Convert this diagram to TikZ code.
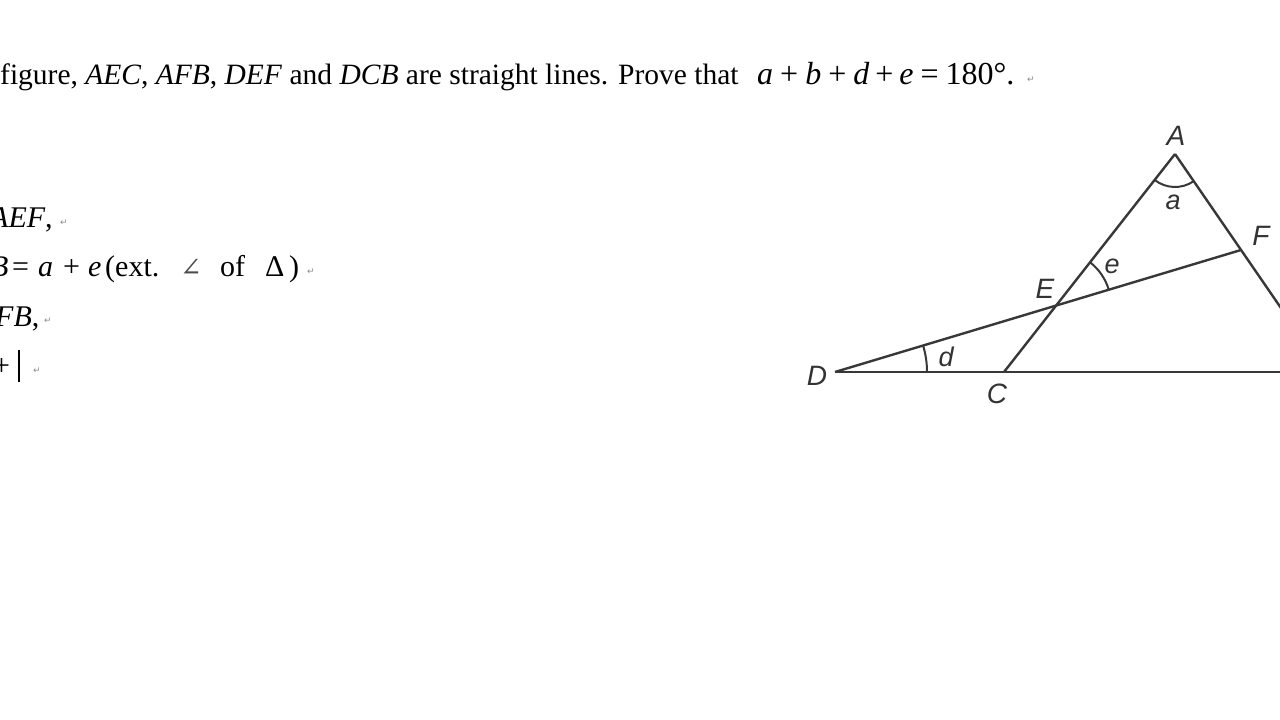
\documentclass[tikz,border=0pt]{standalone}
\usepackage{fontspec}
\setmainfont{Liberation Serif}
\newfontfamily\lblfont{Liberation Sans}
\newfontfamily\symfont{DejaVu Serif}
\newfontfamily\retfont{DejaVu Sans}
\usetikzlibrary{angles,calc,intersections}
\begin{document}
\begin{tikzpicture}[x=1pt,y=1pt,
 txt/.style={inner sep=0pt, anchor=base west, font=\fontsize{30}{36}\selectfont},
 ret/.style={inner sep=0pt, anchor=base west, text=black!45, font=\retfont\fontsize{9}{11}\selectfont},
 lbl/.style={font=\lblfont\itshape\fontsize{28}{32}\selectfont, text=black!80, inner sep=0pt},
 sm/.style={font=\lblfont\itshape\fontsize{27}{30}\selectfont, text=black!80, inner sep=0pt},
 geo/.style={draw=black!78, line width=2.4pt, line join=round},
 arcs/.style={draw=black!78, line width=2pt}]
\fill[white] (0,0) rectangle (1280,720);
\useasboundingbox (0,0) rectangle (1280,720);
\clip (0,0) rectangle (1280,720);
% text
\node[txt, font=\fontsize{29.5}{36}\selectfont] (t1) at (0,635) {figure, \textit{AEC}, \textit{AFB}, \textit{DEF} and \textit{DCB} are straight lines. Prove that};
\node[txt, font=\fontsize{32}{38}\selectfont] (t1m) at (757,635) {\textit{a}\kern7pt+\kern7pt\textit{b}\kern7pt+\kern7pt\textit{d}\kern6pt+\kern6pt\textit{e}\kern7pt=\kern7pt180°.};
\node[ret] (r1) at (1027,637) {↵};
\node[txt] (t2) at (-10,492) {\textit{AEF},};
\node[ret] (r2) at (60,494) {↵};
\node[txt] (t3a) at (-10,443) {\textit{B}};
\node[txt] (t3b) at (12,443) {=};
\node[txt] (t3c) at (38,443) {\textit{a}};
\node[txt] (t3d) at (63,443) {+};
\node[txt] (t3e) at (88,443) {\textit{e}};
\node[txt] (t3f) at (105,443) {(ext.};
\node[txt, font=\symfont\fontsize{26}{30}\selectfont, text=black!70] (t3g) at (180,443) {∠};
\node[txt] (t3h) at (220,443) {of};
\node[txt] (t3i) at (265,443) {Δ};
\node[txt] (t3j) at (289,443) {)};
\node[ret] (r3) at (307,445) {↵};
\node[txt] (t4) at (-5,393) {\textit{FB},};
\node[ret] (r4) at (44,396) {↵};
\node[txt] (t5) at (-7,344) {+};
\draw[line width=1.4pt] (19,370) -- (19,338);
\node[ret] (r5) at (33,346) {↵};
% geometry
\coordinate (A) at (1175,566);
\coordinate (D) at (835,348);
\coordinate (C) at (1004,348);
\coordinate (F) at (1241,470);
\coordinate (B) at (1325,348);
\coordinate (E) at (intersection of A--C and D--F);
\draw[geo] (D) -- (B);
\draw[geo] (D) -- (F);
\draw[geo] (A) -- (C);
\draw[geo] (A) -- (B);
\pic[arcs, angle radius=33pt] {angle=C--A--B};
\pic[arcs, angle radius=55pt] {angle=F--E--A};
\pic[arcs, angle radius=92pt] {angle=C--D--F};
\node[lbl] (lA) at (1176,584) {A};
\node[lbl] (lF) at (1261,484) {F};
\node[lbl] (lE) at (1045,431) {E};
\node[lbl] (lD) at (817,344) {D};
\node[lbl] (lC) at (997,326) {C};
\node[sm] (la) at (1173,518) {a};
\node[sm] (le) at (1112,454) {e};
\node[sm] (ld) at (946,363) {d};
\end{tikzpicture}
\end{document}
